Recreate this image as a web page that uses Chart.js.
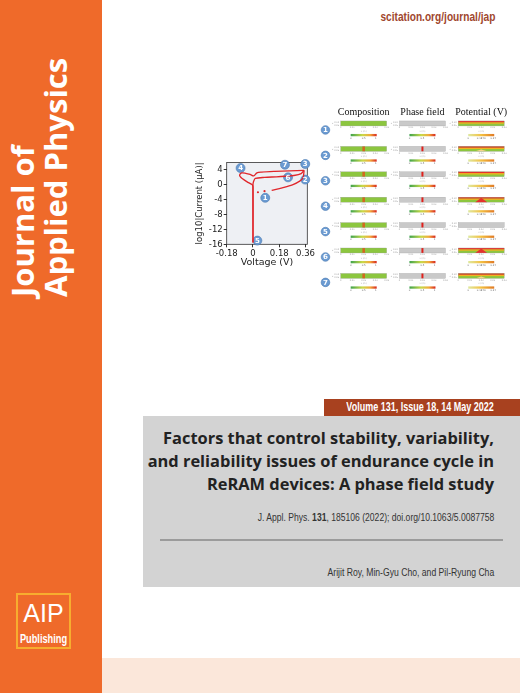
<!DOCTYPE html>
<html lang="en">

<head>
    <meta charset="UTF-8">
    <meta name="viewport" content="width=device-width, initial-scale=1.0">
    <title>Journal of Applied Physics cover</title>
    <script src="https://cdn.jsdelivr.net/npm/chart.js"></script>
    <style>
        body { margin: 0; }
        #page { position: relative; width: 520px; height: 693px; overflow: hidden; background: #fff; font-family: "Liberation Sans", Arial, sans-serif; }
        .abs { position: absolute; }
        .narrow { transform-origin: right center; white-space: nowrap; }
        #band { left: 0; top: 0; width: 102px; height: 693px; background: #ef6a2a; }
        #peach { left: 102px; top: 658px; width: 418px; height: 35px; background: #fbe7da; }
        #journal { left: 0; top: 0; width: 280px; transform-origin: 0 0; transform: translate(6px, 297px) rotate(-90deg);
            color: #fff; font-family: "Open Sans", sans-serif; font-weight: 700; font-size: 31px; line-height: 33px; white-space: nowrap; }
        #site { right: 25px; top: 9px; color: #a0462d; font-weight: 700; font-size: 13px; transform: scaleX(0.78); }
        #volband { left: 324px; top: 399px; width: 196px; height: 17px; background: #a8411f; }
        #voltext { right: 26px; top: 400px; color: #fff; font-weight: 700; font-size: 12.5px; line-height: 15px; transform: scaleX(0.72); }
        #graybox { left: 143px; top: 416px; width: 377px; height: 171px; background: #d3d3d3; }
        #title { right: 26px; top: 426px; text-align: right; color: #222; font-family: "Open Sans", sans-serif; font-weight: 700; font-size: 16.4px; line-height: 23px; white-space: nowrap; }
        #cite { right: 26px; top: 511px; color: #333; font-size: 11px; transform: scaleX(0.78); }
        #rule { left: 160px; top: 539px; width: 343px; height: 2px; background: #9b9b9b; }
        #authors { right: 26px; top: 566px; color: #333; font-size: 11.5px; transform: scaleX(0.75); }
        #logo { left: 16px; top: 593px; width: 51px; height: 52px; border: 2px solid #f7ad2f; color: #fff; text-align: center; }
        #logo .aip { position: absolute; left: 0; width: 51px; top: 6px; font-size: 25px; line-height: 25px; }
        #logo .pub { position: absolute; left: -10px; width: 71px; top: 38px; font-weight: 700; font-size: 12px; line-height: 13px; transform: scaleX(0.77); }
        #ivbox { left: 194px; top: 150px; width: 126px; height: 120px; }
        #panelbox { left: 300px; top: 100px; width: 220px; height: 200px; }
    </style>
</head>

<body>
    <div id="page">
        <div id="band" class="abs"></div>
        <div id="peach" class="abs"></div>
        <div id="journal" class="abs">Journal of<br>Applied Physics</div>
        <div id="site" class="abs narrow">scitation.org/journal/jap</div>

        <!-- I-V curve -->
        <div id="ivbox" class="abs"><canvas id="ivChart"></canvas></div>
        <!-- snapshot panels -->
        <div id="panelbox" class="abs"><canvas id="panelChart"></canvas></div>

        <div id="graybox" class="abs"></div>
        <div id="volband" class="abs"></div>
        <div id="voltext" class="abs narrow">Volume 131, Issue 18, 14 May 2022</div>
        <div id="title" class="abs">Factors that control stability, variability,<br>and reliability issues of endurance cycle in<br>ReRAM devices: A phase field study</div>
        <div id="cite" class="abs narrow">J. Appl. Phys. <b>131</b>, 185106 (2022); doi.org/10.1063/5.0087758</div>
        <div id="rule" class="abs"></div>
        <div id="authors" class="abs narrow">Arijit Roy, Min-Gyu Cho, and Pil-Ryung Cha</div>

        <div id="logo" class="abs"><div class="aip">AIP</div><div class="pub">Publishing</div></div>
    </div>

    <script>
        // I-V loop, log10|I| (uA) against voltage (V)
        const xTicks = [-0.18, 0, 0.18, 0.36];
        const xTickLabels = ['-0.18', '0', '0.18', '0.36'];
        const yTicks = [-16, -12, -8, -4, 0, 4];
        const yTickLabels = ['-16', '-12', '-8', '-4', '0', '4'];

        const formingDotV = [0.034, 0.079];
        const formingDotI = [-2.0, -1.7];
        const formingV = [0.128, 0.2, 0.27, 0.32, 0.343, 0.35];
        const formingI = [-1.5, -0.8, 0.0, 1.0, 1.9, 3.9];
        const resetV = [0.35, 0.25, 0.15, 0.06, 0.027, 0.005, -0.02, -0.05, -0.078, -0.092, -0.085, -0.074, -0.04, -0.007, 0, 0];
        const resetI = [3.9, 3.75, 3.6, 3.4, 3.2, 2.4, 2.8, 3.1, 3.2, 2.6, 2.1, 1.7, 0.8, 0.05, -0.5, -15.5];
        const setV = [0, 0, 0.005, 0.016, 0.08, 0.16, 0.22, 0.28, 0.33, 0.35];
        const setI = [-15.5, 0, 1.0, 1.7, 2.0, 2.15, 2.3, 2.5, 3.0, 3.9];

        const stateLabels = ['1', '2', '3', '4', '5', '6', '7'];
        const stateV = [0.084, 0.358, 0.358, -0.085, 0.03, 0.24, 0.219];
        const stateI = [-3.5, 1.4, 5.6, 4.5, -15, 2.0, 5.4];

        // snapshot panels, one row per numbered state
        const panelCols = ['Composition', 'Phase field', 'Potential (V)'];
        const panelRows = [1, 2, 3, 4, 5, 6, 7];
        const compFilament = [0, 1, 1, 1, 1, 1, 1];
        const phaseFilament = [0, 1, 1, 1, 1, 1, 1];
        const potentialOn = [1, 1, 1, 1, 0, 1, 1];
        const potentialPeak = [0, 0.4, 0, 1, 0, 1, 0.4];

        const pts = (xs, ys) => xs.map((x, i) => ({ x: x, y: ys[i] }));
        const RED = '#e0262b';
        const BADGE = '#6b9bd2';

        // number labels on top of the badge points
        const badgeText = {
            id: 'badgeText',
            afterDatasetsDraw(chart) {
                const ctx = chart.ctx;
                chart.data.datasets.forEach((ds, di) => {
                    if (!ds.badges) return;
                    chart.getDatasetMeta(di).data.forEach((pt, i) => {
                        ctx.save();
                        ctx.fillStyle = '#fff';
                        ctx.font = 'bold 7px "DejaVu Sans"';
                        ctx.textAlign = 'center';
                        ctx.textBaseline = 'middle';
                        ctx.fillText(ds.badges[i], pt.x, pt.y + 0.5);
                        ctx.restore();
                    });
                });
            }
        };

        const plotFrame = {
            id: 'plotFrame',
            beforeDraw(chart) {
                const a = chart.chartArea, ctx = chart.ctx;
                ctx.save();
                ctx.fillStyle = '#eef0f4';
                ctx.fillRect(a.left, a.top, a.right - a.left, a.bottom - a.top);
                ctx.restore();
            },
            beforeDatasetsDraw(chart) {
                const a = chart.chartArea, ctx = chart.ctx;
                ctx.save();
                ctx.strokeStyle = '#333';
                ctx.lineWidth = 0.8;
                ctx.strokeRect(a.left, a.top, a.right - a.left, a.bottom - a.top);
                ctx.restore();
            }
        };

        const tickFont = { family: 'DejaVu Sans', size: 8.5 };
        const lineSet = (data) => ({ data: data, showLine: true, borderColor: RED, borderWidth: 1.3, pointRadius: 0, tension: 0.3 });

        new Chart(document.getElementById('ivChart'), {
            type: 'scatter',
            data: {
                datasets: [
                    lineSet(pts(formingV, formingI)),
                    lineSet(pts(resetV, resetI)),
                    lineSet(pts(setV, setI)),
                    { data: pts(formingDotV, formingDotI), pointRadius: 1.1, backgroundColor: RED, borderWidth: 0 },
                    {
                        data: pts(stateV, stateI), badges: stateLabels, clip: false,
                        pointRadius: 4.5, backgroundColor: BADGE, borderColor: '#4a78b0', borderWidth: 0.6
                    }
                ]
            },
            options: {
                responsive: true, maintainAspectRatio: false, animation: false,
                layout: { padding: { top: 12.5, right: 12.7, left: 0, bottom: 0 } },
                plugins: { legend: { display: false }, tooltip: { enabled: false } },
                scales: {
                    x: {
                        type: 'linear', min: -0.18, max: 0.372,
                        afterBuildTicks: s => { s.ticks = xTicks.map(v => ({ value: v })); },
                        afterFit: s => { s.height = 25.7; },
                        ticks: { font: tickFont, color: '#222', padding: 1, maxRotation: 0, callback: (v, i) => xTickLabels[i] },
                        grid: { drawOnChartArea: false, tickLength: 3, color: '#333' },
                        border: { display: false },
                        title: { display: true, text: 'Voltage (V)', font: { family: 'DejaVu Sans', size: 9.5 }, color: '#222', padding: { top: 0, bottom: 2 } }
                    },
                    y: {
                        type: 'linear', min: -16, max: 6,
                        afterBuildTicks: s => { s.ticks = yTicks.map(v => ({ value: v })); },
                        afterFit: s => { s.width = 32.7; },
                        ticks: { font: tickFont, color: '#222', padding: 1, callback: (v, i) => yTickLabels[i] },
                        grid: { drawOnChartArea: false, tickLength: 3, color: '#333' },
                        border: { display: false },
                        title: { display: true, text: 'log10|Current (μA)|', font: { family: 'DejaVu Sans', size: 8.5 }, color: '#222', padding: { top: 1, bottom: 0 } }
                    }
                }
            },
            plugins: [plotFrame, badgeText]
        });

        // the small field maps drawn per row/column through the panel scales
        const panelCells = {
            id: 'panelCells',
            beforeDatasetsDraw(chart) {
                const ctx = chart.ctx, xs = chart.scales.x, ys = chart.scales.y;
                const W = 46, H = 5;
                const tiny = (txt, x, y, size, color) => {
                    ctx.font = size + 'px "DejaVu Sans"';
                    ctx.fillStyle = color;
                    ctx.textAlign = 'center';
                    ctx.textBaseline = 'middle';
                    ctx.fillText(txt, x, y);
                };
                panelRows.forEach((row, r) => {
                    const cy = ys.getPixelForValue(row);
                    panelCols.forEach((col, c) => {
                        const cx = xs.getPixelForValue(c);
                        const L = cx - W / 2, T = cy - 9;
                        ctx.save();
                        // bar
                        if (c === 0) {
                            ctx.fillStyle = '#8cc63f';
                            ctx.fillRect(L, T, W, H);
                            if (compFilament[r]) { ctx.fillStyle = '#d2691e'; ctx.fillRect(cx - 1.3, T, 2.6, H); }
                        } else if (c === 1) {
                            ctx.fillStyle = '#c9c9c9';
                            ctx.fillRect(L, T, W, H);
                            if (phaseFilament[r]) { ctx.fillStyle = '#e0201b'; ctx.fillRect(cx - 1, T, 2, H); }
                        } else if (potentialOn[r]) {
                            ctx.fillStyle = '#8cc63f';
                            ctx.fillRect(L, T, W, H);
                            ctx.fillStyle = '#f3b21f';
                            ctx.fillRect(L, T + 1.3, W, 1.4);
                            ctx.fillStyle = '#e5322d';
                            ctx.fillRect(L, T, W, 1.3);
                            if (potentialPeak[r] > 0) {
                                const p = potentialPeak[r];
                                ctx.fillStyle = p > 0.5 ? '#e5322d' : '#f6d58a';
                                ctx.beginPath();
                                ctx.moveTo(cx - 6, T + H);
                                ctx.lineTo(cx, T + H - p * 4.5);
                                ctx.lineTo(cx + 6, T + H);
                                ctx.closePath();
                                ctx.fill();
                            }
                        } else {
                            ctx.fillStyle = '#c9c9c9';
                            ctx.fillRect(L, T, W, H);
                        }
                        ctx.strokeStyle = '#999';
                        ctx.lineWidth = 0.3;
                        ctx.strokeRect(L, T, W, H);
                        // tiny axis text
                        tiny('0.10', L - 4, T + 1, 2.2, '#999');
                        tiny('0.05', L - 4, T + 4, 2.2, '#999');
                        tiny('z', L - 8, T + 2.5, 2.5, '#999');
                        ['0', '0.01', '0.02', '0.03', '0.04'].forEach((t, k) => tiny(t, L + k * W / 4, T + H + 1.8, 2.2, '#999'));
                        tiny('x (m)', cx, T + H + 5, 2.2, '#aaa');
                        // colour bar
                        const g = ctx.createLinearGradient(cx - 13, 0, cx + 13, 0);
                        if (c === 2) {
                            g.addColorStop(0, '#dfe9a0'); g.addColorStop(0.5, '#f3c041'); g.addColorStop(1, '#e07a25');
                        } else {
                            g.addColorStop(0, '#3fa34d'); g.addColorStop(0.45, '#c8d948'); g.addColorStop(0.75, '#f2a93b'); g.addColorStop(1, '#d7261e');
                        }
                        ctx.fillStyle = g;
                        ctx.fillRect(cx - 13, cy + 4, 26, 2.3);
                        tiny('0', cx - 13, cy + 8, 2.5, '#666');
                        tiny(c === 2 ? '0.1874' : '0.5', cx, cy + 8, 2.5, '#666');
                        tiny(c === 2 ? '0.37' : '1', cx + 12, cy + 8, 2.5, '#666');
                        ctx.restore();
                    });
                });
            }
        };

        new Chart(document.getElementById('panelChart'), {
            type: 'scatter',
            data: {
                datasets: [{
                    data: panelRows.map(r => ({ x: -0.65, y: r })), badges: stateLabels, clip: false,
                    pointRadius: 4.3, backgroundColor: BADGE, borderColor: '#4a78b0', borderWidth: 0.6
                }]
            },
            options: {
                responsive: true, maintainAspectRatio: false, animation: false,
                layout: { padding: { top: 0, right: 9.4, left: 0, bottom: 4.25 } },
                plugins: { legend: { display: false }, tooltip: { enabled: false } },
                scales: {
                    x: {
                        type: 'linear', position: 'top', min: -1, max: 2.5,
                        afterBuildTicks: s => { s.ticks = panelCols.map((n, i) => ({ value: i })); },
                        afterFit: s => { s.height = 17.25; },
                        ticks: { font: { family: 'Liberation Serif', size: 10 }, color: '#111', padding: -1, maxRotation: 0, callback: (v, i) => panelCols[i] },
                        grid: { display: false, drawTicks: false },
                        border: { display: false }
                    },
                    y: { type: 'linear', reverse: true, min: 0.5, max: 7.5, display: false }
                }
            },
            plugins: [panelCells, badgeText]
        });
    </script>
</body>

</html>
